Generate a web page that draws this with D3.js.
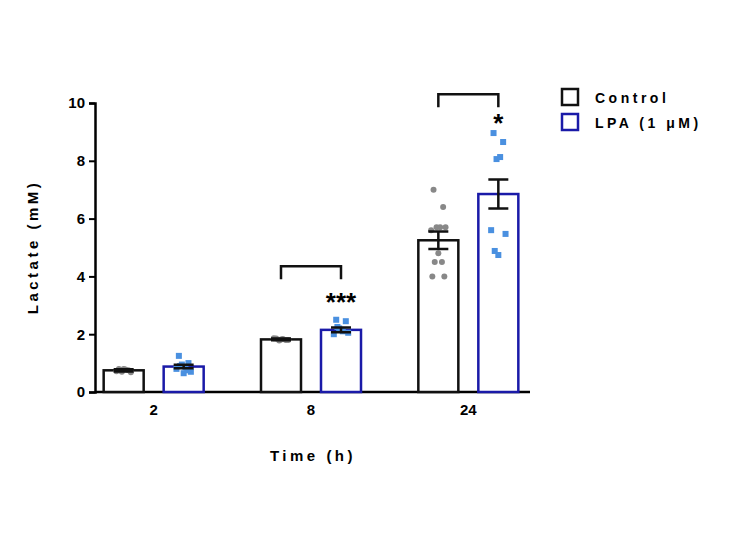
<!DOCTYPE html>
<html><head><meta charset="utf-8">
<script src="https://cdn.jsdelivr.net/npm/d3@7"></script>
<style>body{margin:0;background:#fff}text{font-family:Arial,"Liberation Sans",sans-serif;font-weight:bold}</style>
</head><body>
<svg id="c" width="732" height="549"></svg>
<script>
const times = ["2", "8", "24"];
const groups = ["Control", "LPA (1 μM)"];
const controlMean = [0.75, 1.82, 5.25];
const lpaMean = [0.88, 2.15, 6.85];
const controlSem = [0.04, 0.03, 0.3];
const lpaSem = [0.06, 0.08, 0.5];
const controlPts = [
  [0.8, 0.75, 0.7, 0.78, 0.72, 0.68, 0.8, 0.74],
  [1.85, 1.8, 1.78, 1.83, 1.86, 1.8, 1.82],
  [7.0, 6.4, 5.7, 5.7, 5.6, 5.7, 4.8, 4.5, 4.5, 4.0, 4.0]
];
const lpaPts = [
  [1.25, 1.0, 0.95, 0.85, 0.8, 0.7, 0.65, 0.9, 0.75],
  [2.5, 2.45, 2.2, 2.1, 2.0, 2.05, 2.15, 2.25],
  [8.96, 8.65, 8.06, 8.13, 5.6, 5.47, 4.74, 4.88]
];
const yTicks = [0, 2, 4, 6, 8, 10];
const sigLabels = ["", "***", "*"];

const svg = d3.select("#c");
const y = d3.scaleLinear().domain([0, 10]).range([392, 103]);
const x = d3.scaleBand().domain(times).range([75, 547]).padding(0);
const xs = d3.scaleBand().domain([0, 1]).range([-50, 50]).paddingInner(1 / 3);
const colors = ["#111", "#1a1aa8"];
const ptCol = ["#888", "#4a90e0"];

const yAx = svg.append("g").attr("transform", "translate(95,0)")
  .call(d3.axisLeft(y).tickValues(yTicks).tickSize(6).tickPadding(4));
yAx.select(".domain").attr("stroke-width", 2.5);
yAx.selectAll(".tick line").attr("stroke-width", 2);
yAx.selectAll("text").attr("font-size", 15).attr("font-weight", "bold");
const xAx = svg.append("g").attr("transform", "translate(0,392)")
  .call(d3.axisBottom(x).tickSize(0).tickPadding(12));
xAx.select(".domain").attr("stroke-width", 2.5).attr("d", "M95,0H530");
xAx.selectAll("text").attr("font-size", 15).attr("font-weight", "bold");

times.forEach((t, i) => {
  const mid = x(t) + x.bandwidth() / 2;
  [[controlMean, controlSem, controlPts], [lpaMean, lpaSem, lpaPts]].forEach(([m, s, p], g) => {
    const x0 = mid + xs(g), w = xs.bandwidth(), cx = x0 + w / 2;
    svg.append("rect").attr("x", x0).attr("y", y(m[i])).attr("width", w).attr("height", y(0) - y(m[i]))
      .attr("fill", "#fff").attr("stroke", colors[g]).attr("stroke-width", 2.5);
    p[i].forEach((v, k) => {
      const off = [-8, 8, -3, 3, -12, 12, 0, -6, 6, -10, 10][k % 11] * 0.6;
      if (g === 0) svg.append("circle").attr("cx", cx + off).attr("cy", y(v)).attr("r", 3).attr("fill", ptCol[0]);
      else svg.append("rect").attr("x", cx + off - 3).attr("y", y(v) - 3).attr("width", 6).attr("height", 6).attr("fill", ptCol[1]);
    });
    const e = s[i];
    svg.append("path").attr("d", `M${cx},${y(m[i] - e)}V${y(m[i] + e)}M${cx - 10},${y(m[i] - e)}h20M${cx - 10},${y(m[i] + e)}h20`)
      .attr("stroke", "#111").attr("stroke-width", 2.5).attr("fill", "none");
  });
  if (sigLabels[i]) {
    const c1 = mid + xs(0) + xs.bandwidth() / 2, c2 = mid + xs(1) + xs.bandwidth() / 2;
    const top = i === 1 ? y(4.35) : y(10.3);
    svg.append("path").attr("d", `M${c1},${top + 13}V${top}H${c2}V${top + 13}`)
      .attr("stroke", "#111").attr("stroke-width", 2.5).attr("fill", "none");
    svg.append("text").attr("x", c2).attr("y", top + (i === 1 ? 45 : 38)).attr("text-anchor", "middle")
      .attr("font-size", 26).text(sigLabels[i]);
  }
});

svg.append("text").attr("transform", "translate(38,247) rotate(-90)").attr("text-anchor", "middle")
  .attr("font-size", 15).attr("letter-spacing", 3.5).text("Lactate (mM)");
svg.append("text").attr("x", 313).attr("y", 461).attr("text-anchor", "middle")
  .attr("font-size", 15).attr("letter-spacing", 3.5).text("Time (h)");

groups.forEach((gname, g) => {
  const ly = 89 + g * 25;
  svg.append("rect").attr("x", 562).attr("y", ly).attr("width", 16).attr("height", 16)
    .attr("fill", "#fff").attr("stroke", colors[g]).attr("stroke-width", 2.5);
  svg.append("text").attr("x", 595).attr("y", ly + 14).attr("font-size", 14).attr("letter-spacing", 3.5).text(gname);
});
</script>
</body></html>
